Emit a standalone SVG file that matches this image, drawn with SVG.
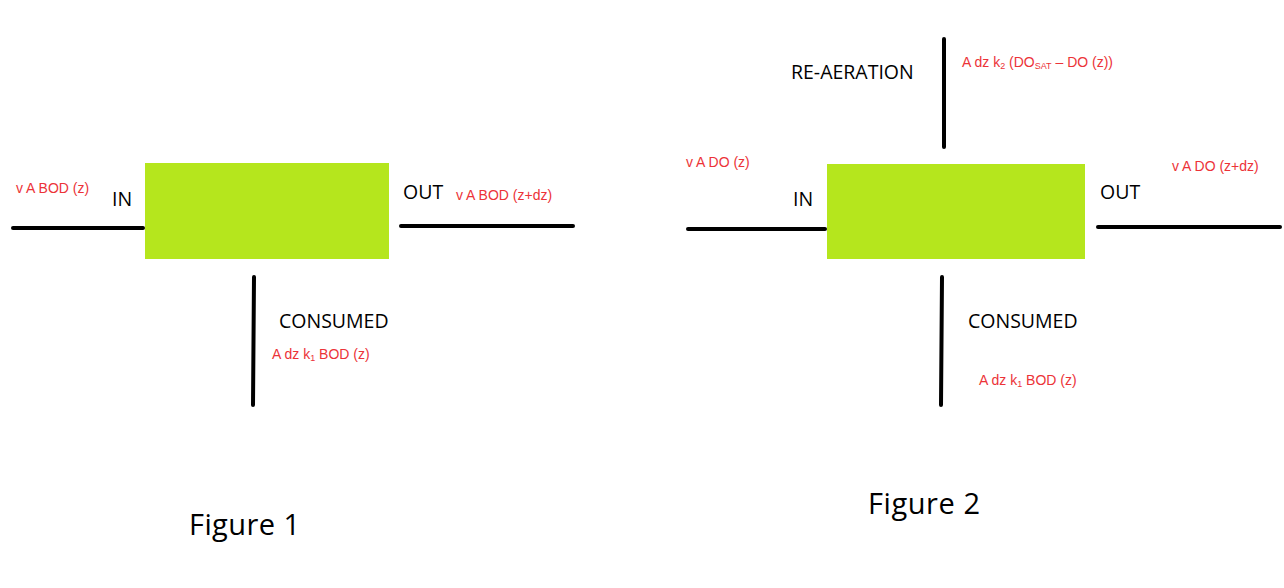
<svg xmlns="http://www.w3.org/2000/svg" width="1284" height="588" viewBox="0 0 1284 588">
<style>
.box{fill:#b5e61d}
.ln{stroke:#000;stroke-width:4;stroke-linecap:round;fill:none}
.lbl{font-family:"Open Sans","Liberation Sans",sans-serif;font-size:19.5px;fill:#000}
.red{font-family:"Liberation Sans","Open Sans",sans-serif;font-size:14px;fill:#ec3338}
.fig{font-family:"Open Sans","Liberation Sans",sans-serif;font-size:29px;fill:#000}
</style>
<rect width="1284" height="588" fill="#fff"/>
<g id="connectors">
<line class="ln" x1="13" y1="228" x2="143" y2="228"/>
<line class="ln" x1="401" y1="226" x2="573" y2="226"/>
<line class="ln" x1="254" y1="277" x2="253" y2="405"/>
<line class="ln" x1="688" y1="229" x2="825" y2="229"/>
<line class="ln" x1="1098" y1="227" x2="1280" y2="227"/>
<line class="ln" x1="944" y1="39" x2="944" y2="147"/>
<line class="ln" x1="942" y1="277" x2="941" y2="405"/>
</g>
<g id="fig1-box"><rect class="box" x="145" y="163" width="244" height="96"/></g>
<g id="fig2-box"><rect class="box" x="827" y="164" width="258" height="95"/></g>
<g id="fig1-labels">
<text class="red" x="16" y="193">v A BOD (z)</text>
<text class="lbl" x="112" y="206">IN</text>
<text class="lbl" x="403" y="199">OUT</text>
<text class="red" x="456" y="200">v A BOD (z+dz)</text>
<text class="lbl" x="279" y="328">CONSUMED</text>
<text class="red" x="272" y="359">A dz k<tspan font-size="9" dy="2">1</tspan><tspan dy="-2"> BOD (z)</tspan></text>
<text class="fig" x="189" y="535" textLength="111">Figure 1</text>
</g>
<g id="fig2-labels">
<text class="lbl" x="791" y="79">RE-AERATION</text>
<text class="red" x="962" y="67">A dz k<tspan font-size="9" dy="2">2</tspan><tspan dy="-2"> (DO</tspan><tspan font-size="9" dy="2">SAT</tspan><tspan dy="-2"> – DO (z))</tspan></text>
<text class="red" x="686" y="167">v A DO (z)</text>
<text class="lbl" x="793" y="206">IN</text>
<text class="lbl" x="1100" y="199">OUT</text>
<text class="red" x="1172" y="171">v A DO (z+dz)</text>
<text class="lbl" x="968" y="328">CONSUMED</text>
<text class="red" x="979" y="385">A dz k<tspan font-size="9" dy="2">1</tspan><tspan dy="-2"> BOD (z)</tspan></text>
<text class="fig" x="868" y="514" textLength="112">Figure 2</text>
</g>
</svg>
